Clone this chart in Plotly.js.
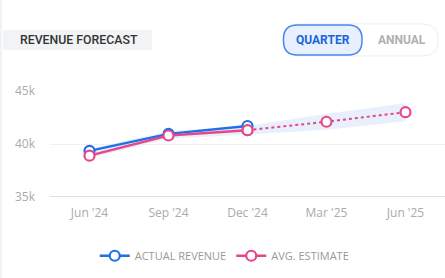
<!DOCTYPE html>
<html>
<head>
<meta charset="utf-8">
<script src="https://cdn.plot.ly/plotly-3.0.1.min.js"></script>
<style>
html,body{margin:0;padding:0;background:#fff;}
#chart{width:445px;height:278px;}
</style>
</head>
<body>
<div id="chart"></div>
<script>
// ---- data ----
const quarters = ["Jun '24", "Sep '24", "Dec '24", "Mar '25", "Jun '25"];
const actualQuarters = ["Jun '24", "Sep '24", "Dec '24"];
const actualRevenue = [39350, 40950, 41700];
const estimatePastQuarters = ["Jun '24", "Sep '24", "Dec '24"];
const estimatePast = [38900, 40800, 41300];
const estimateFutureQuarters = ["Dec '24", "Mar '25", "Jun '25"];
const estimateFuture = [41300, 42100, 43000];
const bandLow = [38650, 40500, 40900, 41350, 42150];
const bandHigh = [39550, 41200, 41700, 42850, 43850];
const yTickVals = [35000, 40000, 45000];
const yTickText = ["35k", "40k", "45k"];

const BLUE = "#1f6fe6";
const PINK = "#e8468a";

// plot area pixels
const L = 50, R = 445, T = 91, B = 197, W = 445, H = 278;
const px = x => (x - L) / (R - L);
const py = y => (B - y) / (B - T);
function roundRect(x0, y0, x1, y1, r) {
  const p = [
    ["M", x0 + r, y0], ["L", x1 - r, y0], ["Q", x1, y0, x1, y0 + r],
    ["L", x1, y1 - r], ["Q", x1, y1, x1 - r, y1], ["L", x0 + r, y1],
    ["Q", x0, y1, x0, y1 - r], ["L", x0, y0 + r], ["Q", x0, y0, x0 + r, y0]
  ];
  return p.map(s => {
    let out = s[0];
    for (let i = 1; i < s.length; i += 2) out += " " + px(s[i]).toFixed(5) + "," + py(s[i + 1]).toFixed(5);
    return out;
  }).join(" ") + " Z";
}

const traces = [
  { x: quarters, y: bandLow, type: "scatter", mode: "lines", line: { width: 0, color: "rgba(0,0,0,0)" },
    showlegend: false, hoverinfo: "skip" },
  { x: quarters, y: bandHigh, type: "scatter", mode: "lines", fill: "tonexty",
    fillcolor: "rgba(215,230,248,0.6)", line: { width: 0, color: "rgba(0,0,0,0)" },
    showlegend: false, hoverinfo: "skip" },
  { x: estimateFutureQuarters, y: estimateFuture, type: "scatter", mode: "lines+markers",
    line: { color: PINK, width: 2, dash: "dot" },
    marker: { symbol: "circle", size: 10, color: "#fff", line: { color: PINK, width: 2.2 } },
    showlegend: false },
  { x: actualQuarters, y: actualRevenue, type: "scatter", mode: "lines+markers", name: "ACTUAL REVENUE",
    line: { color: BLUE, width: 2.4 },
    marker: { symbol: "circle", size: 10, color: "#fff", line: { color: BLUE, width: 2.2 } } },
  { x: estimatePastQuarters, y: estimatePast, type: "scatter", mode: "lines+markers", name: "AVG. ESTIMATE",
    line: { color: PINK, width: 2.4 },
    marker: { symbol: "circle", size: 10, color: "#fff", line: { color: PINK, width: 2.2 } } }
];

const layout = {
  width: W, height: H,
  margin: { l: L, r: W - R, t: T, b: H - B, pad: 0 },
  paper_bgcolor: "#fff", plot_bgcolor: "#fff",
  font: { family: "Open Sans, sans-serif", color: "#aaa" },
  xaxis: {
    type: "category", categoryorder: "array", categoryarray: quarters,
    range: [-0.5, 4.5], showgrid: false, zeroline: false, showline: false,
    ticks: "", tickfont: { size: 12, color: "#aaa" }, ticklabelstandoff: 7, fixedrange: true
  },
  yaxis: {
    range: [35000, 45000], tickvals: yTickVals, ticktext: yTickText,
    showgrid: true, gridcolor: "#f0f0f0", gridwidth: 1, zeroline: false, showline: false,
    ticks: "", tickfont: { size: 12, color: "#aaa" }, ticklabelstandoff: 14, fixedrange: true
  },
  showlegend: true,
  legend: {
    orientation: "h", xref: "container", yref: "container", x: 0.505, xanchor: "center",
    y: 0.08, yanchor: "middle", font: { size: 11, color: "#999" }, itemwidth: 30,
    traceorder: "normal"
  },
  shapes: [
    // baseline 35k
    { type: "line", xref: "paper", yref: "y", x0: 0, x1: 1, y0: 35000, y1: 35000,
      line: { color: "#dcdfe6", width: 2 } },
    // left card border
    { type: "line", xref: "paper", yref: "paper", x0: px(1), x1: px(1), y0: py(0), y1: py(278),
      line: { color: "#eeeeee", width: 1.5 } },
    // title box
    { type: "rect", xref: "paper", yref: "paper", x0: px(3), x1: px(152), y0: py(30), y1: py(50),
      fillcolor: "#f1f3f5", line: { width: 0 }, layer: "below" },
    // button container
    { type: "path", xref: "paper", yref: "paper", path: roundRect(283, 24, 438, 56, 15),
      fillcolor: "#ffffff", line: { color: "#eeeeee", width: 1 } },
    // active button
    { type: "path", xref: "paper", yref: "paper", path: roundRect(283.5, 25, 362, 55, 14),
      fillcolor: "#e8f0fe", line: { color: "#4a86e8", width: 1.5 } }
  ],
  annotations: [
    { text: "REVENUE FORECAST", xref: "paper", yref: "paper", x: px(18), y: py(40),
      xanchor: "left", yanchor: "middle", showarrow: false,
      font: { family: "Roboto, sans-serif", size: 12.3, color: "#333", weight: 500 } },
    { text: "QUARTER", xref: "paper", yref: "paper", x: px(323), y: py(40),
      xanchor: "center", yanchor: "middle", showarrow: false,
      font: { family: "Roboto, sans-serif", size: 12, color: "#1a66d9", weight: 700 } },
    { text: "ANNUAL", xref: "paper", yref: "paper", x: px(402), y: py(40),
      xanchor: "center", yanchor: "middle", showarrow: false,
      font: { family: "Roboto, sans-serif", size: 12, color: "#b0b0b0", weight: 700 } }
  ],
  hovermode: false
};

Plotly.newPlot("chart", traces, layout, { displayModeBar: false, staticPlot: true });
</script>
</body>
</html>
